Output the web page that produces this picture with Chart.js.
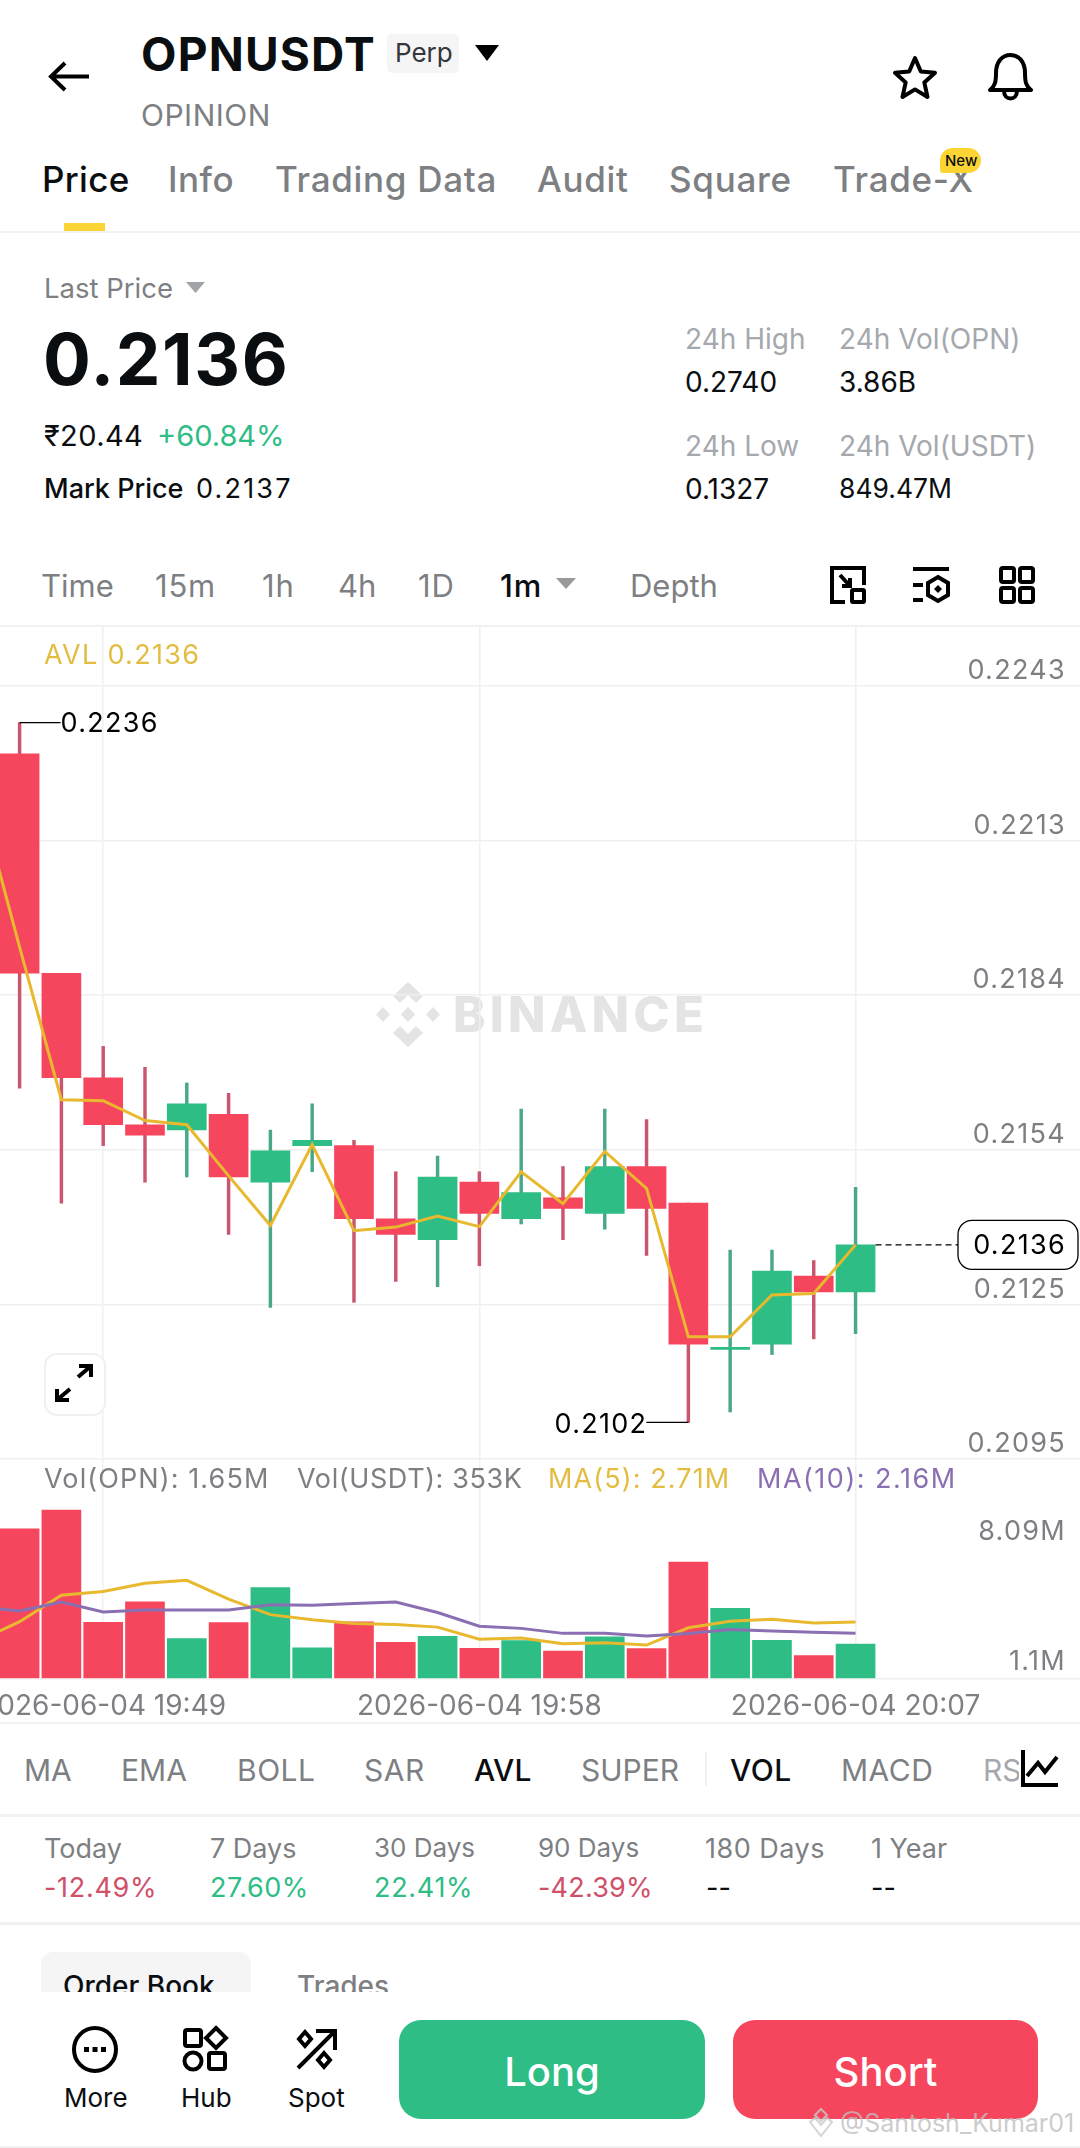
<!DOCTYPE html>
<html lang="en">
<head>
<meta charset="utf-8">
<title>OPNUSDT Perp</title>
<script src="https://cdn.jsdelivr.net/npm/chart.js@4.4.8/dist/chart.umd.min.js"></script>
<style>
    html, body { margin: 0; padding: 0; background: #fff; }
    body { position: relative; width: 1080px; height: 2148px; overflow: hidden; font-family: Inter, "Noto Sans", sans-serif; color: #0b0e11; }
    .t { position: absolute; white-space: nowrap; line-height: 1; }
    .g { color: #7d7f83; }
    .l { color: #a5a8ad; }
    .hr { position: absolute; left: 0; width: 1080px; background: #f1f1f1; }
    svg { position: absolute; overflow: visible; fill: none; stroke: #000; stroke-width: 4; }
    canvas { position: absolute; left: 0; }
</style>
</head>
<body>
    <!-- header -->
    <svg style="left:48px;top:61px" width="42" height="31" viewBox="0 0 42 31"><path d="M41 15.5H3M17 2L3 15.5L17 29"/></svg>
    <div class="t" style="left:141px;top:31px;font-size:46px;font-weight:700;letter-spacing:1.2px">OPNUSDT</div>
    <div style="position:absolute;left:387px;top:34px;width:72px;height:39px;background:#f5f5f5;border-radius:5px"></div>
    <div class="t" style="left:395px;top:40px;font-size:26px;color:#33363b">Perp</div>
    <svg style="left:475px;top:45px;fill:#000;stroke:none" width="24" height="16"><path d="M0 0H24L12 16Z"/></svg>
    <div class="t g" style="left:141px;top:100px;font-size:30px;letter-spacing:.5px">OPINION</div>
    <svg style="left:893px;top:56px;stroke-linejoin:round" width="44" height="43" viewBox="0 0 44 43"><path d="M22 2L27.8 15.5L42 16.8L31.3 26.4L34.5 41L22 33.4L9.5 41L12.7 26.4L2 16.8L16.2 15.5Z"/></svg>
    <svg style="left:988px;top:53px;stroke-linejoin:round" width="45" height="47" viewBox="0 0 45 47"><path d="M2 37C7 33 8 29 8 20C8 9 14 2 22.5 2S37 9 37 20C37 29 38 33 43 37Z M16 38C16 48 29 48 29 38"/></svg>

    <!-- tabs -->
    <div class="t" style="left:42px;top:162px;font-size:35px;font-weight:500;letter-spacing:.3px">Price</div>
    <div class="t g" style="left:168px;top:162px;font-size:35px;font-weight:500;letter-spacing:.5px">Info</div>
    <div class="t g" style="left:275px;top:162px;font-size:35px;font-weight:500;letter-spacing:.7px">Trading Data</div>
    <div class="t g" style="left:537px;top:162px;font-size:35px;font-weight:500;letter-spacing:.7px">Audit</div>
    <div class="t g" style="left:669px;top:162px;font-size:35px;font-weight:500;letter-spacing:.7px">Square</div>
    <div class="t g" style="left:833px;top:162px;font-size:35px;font-weight:500;letter-spacing:.7px">Trade-X</div>
    <div style="position:absolute;left:940px;top:148px;width:41px;height:25px;background:#fcd535;border-radius:13px 13px 13px 3px"></div>
    <div class="t" style="left:945px;top:153px;font-size:15px;font-weight:500">New</div>
    <div style="position:absolute;left:64px;top:223px;width:41px;height:8px;background:#fcd535"></div>
    <div class="hr" style="top:231px;height:2px"></div>

    <!-- price block -->
    <div class="t g" style="left:44px;top:275px;font-size:27.500px">Last Price</div>
    <svg style="left:186px;top:282px;fill:#a0a3a8;stroke:none" width="19" height="11"><path d="M0 0H19L9.5 11Z"/></svg>
    <div class="t" style="left:43px;top:324px;font-size:71px;font-weight:700;letter-spacing:1.6px">0.2136</div>
    <div class="t" style="left:44px;top:421px;font-size:29px;letter-spacing:.4px">₹20.44</div>
    <div class="t" style="left:157px;top:421px;font-size:29px;color:#2ebd85">+60.84%</div>
    <div class="t" style="left:44px;top:475px;font-size:27px;font-weight:500">Mark Price</div>
    <div class="t" style="left:196px;top:475px;font-size:27px;letter-spacing:2.2px">0.2137</div>
    <div class="t l" style="left:685px;top:325px;font-size:28px">24h High</div>
    <div class="t l" style="left:839px;top:325px;font-size:28px">24h Vol(OPN)</div>
    <div class="t" style="left:685px;top:368px;font-size:28px">0.2740</div>
    <div class="t" style="left:839px;top:368px;font-size:28px">3.86B</div>
    <div class="t l" style="left:685px;top:432px;font-size:28px">24h Low</div>
    <div class="t l" style="left:839px;top:432px;font-size:28px">24h Vol(USDT)</div>
    <div class="t" style="left:685px;top:475px;font-size:28px">0.1327</div>
    <div class="t" style="left:839px;top:475px;font-size:26.500px">849.47M</div>

    <!-- interval row -->
    <div class="t g" style="left:41px;top:570px;font-size:31px">Time</div>
    <div class="t g" style="left:155px;top:570px;font-size:31px;letter-spacing:.8px">15m</div>
    <div class="t g" style="left:262px;top:570px;font-size:31px;letter-spacing:1px">1h</div>
    <div class="t g" style="left:338px;top:570px;font-size:31px">4h</div>
    <div class="t g" style="left:418px;top:570px;font-size:31px;letter-spacing:1px">1D</div>
    <div class="t" style="left:500px;top:570px;font-size:31px;font-weight:500;letter-spacing:.8px">1m</div>
    <svg style="left:556px;top:578px;fill:#999;stroke:none" width="20" height="11"><path d="M0 0H20L10 11Z"/></svg>
    <div class="t g" style="left:630px;top:570px;font-size:31px">Depth</div>
    <svg style="left:830px;top:566px" width="36" height="38" viewBox="0 0 36 38"><path d="M15 36H2V2H34V19M10 9L20 20M20 12V20H12"/><rect x="22" y="24" width="12" height="12" rx="1"/></svg>
    <svg style="left:912px;top:566px" width="38" height="38" viewBox="0 0 38 38"><path d="M1 3H37M1 19H11M1 34H11M26 11L36 17V29L26 35L16 29V17Z"/><path d="M26 19L30 23L26 27L22 23Z" fill="#000" stroke="none"/></svg>
    <svg style="left:999px;top:566px" width="36" height="38" viewBox="0 0 36 38"><rect x="2" y="2" width="13" height="14" rx="2"/><rect x="21" y="2" width="13" height="14" rx="2"/><rect x="2" y="22" width="13" height="14" rx="2"/><rect x="21" y="22" width="13" height="14" rx="2"/></svg>
    <div class="hr" style="top:625px;height:2px"></div>

    <!-- chart panes -->
    <svg style="left:376px;top:982px;fill:#e4e4e4;stroke:none" width="64" height="65" viewBox="0 0 64 65"><path d="M32 0L47 14L40 21L32 13L24 21L17 14ZM7 25L14 32.5L7 40L0 32.5ZM57 25L64 32.5L57 40L50 32.5ZM32 25L39 32.5L32 40L25 32.5ZM17 51L24 44L32 52L40 44L47 51L32 65Z"/></svg>
    <div class="t" style="left:453px;top:990px;font-size:49px;font-weight:800;color:#e4e4e4;letter-spacing:4.2px">BINANCE</div>
    <canvas id="priceChart" width="1080" height="833" style="top:627px"></canvas>
    <canvas id="volChart" width="1080" height="264" style="top:1458px"></canvas>

    <div class="t" style="left:44px;top:641px;font-size:27px;letter-spacing:1.3px;color:#e3bd42">AVL 0.2136</div>
    <div style="position:absolute;left:44px;top:1353px;width:58px;height:59px;border:2px solid #f0f0f0;border-radius:13px;background:#fff"></div>
    <svg style="left:55px;top:1364px" width="38" height="38" viewBox="0 0 38 38"><path d="M2 36L15 25M2 25V36H14M36 2L23 13M24 2H36V13"/></svg>

    <div class="t g" style="left:44px;top:1465px;font-size:27px;letter-spacing:1.1px">Vol(OPN): 1.65M</div>
    <div class="t g" style="left:297px;top:1465px;font-size:27px;letter-spacing:.6px">Vol(USDT): 353K</div>
    <div class="t" style="left:548px;top:1465px;font-size:27px;letter-spacing:1.1px;color:#e3bd42">MA(5): 2.71M</div>
    <div class="t" style="left:757px;top:1465px;font-size:27px;letter-spacing:1.5px;color:#8b6fb3">MA(10): 2.16M</div>
    <div class="hr" style="top:1722px;height:2px"></div>

    <!-- indicators row -->
    <div class="t g" style="left:24px;top:1755px;font-size:30px">MA</div>
    <div class="t g" style="left:121px;top:1755px;font-size:30px">EMA</div>
    <div class="t g" style="left:237px;top:1755px;font-size:30px;letter-spacing:.5px">BOLL</div>
    <div class="t g" style="left:364px;top:1755px;font-size:30px;letter-spacing:.5px">SAR</div>
    <div class="t" style="left:474px;top:1755px;font-size:30px;font-weight:500">AVL</div>
    <div class="t g" style="left:581px;top:1755px;font-size:30px">SUPER</div>
    <div style="position:absolute;left:705px;top:1752px;width:2px;height:34px;background:#f0f0f0"></div>
    <div class="t" style="left:730px;top:1755px;font-size:30px;font-weight:500;letter-spacing:.5px">VOL</div>
    <div class="t g" style="left:841px;top:1755px;font-size:30px;letter-spacing:.5px">MACD</div>
    <div class="t l" style="left:983px;top:1755px;font-size:30px;width:36px;overflow:hidden">RSI</div>
    <svg style="left:1021px;top:1750px" width="37" height="37" viewBox="0 0 37 37"><path d="M2 0V35H37M6 26L17 13L24 22L36 7"/></svg>
    <div class="hr" style="top:1814px;height:3px"></div>

    <!-- period stats -->
    <div class="t g" style="left:44px;top:1835px;font-size:27px">Today</div>
    <div class="t g" style="left:210px;top:1835px;font-size:27px">7 Days</div>
    <div class="t g" style="left:374px;top:1835px;font-size:26px">30 Days</div>
    <div class="t g" style="left:538px;top:1835px;font-size:26px">90 Days</div>
    <div class="t g" style="left:705px;top:1835px;font-size:27px;letter-spacing:.5px">180 Days</div>
    <div class="t g" style="left:871px;top:1835px;font-size:27px">1 Year</div>
    <div class="t" style="left:44px;top:1874px;font-size:27px;letter-spacing:.7px;color:#cf5068">-12.49%</div>
    <div class="t" style="left:210px;top:1874px;font-size:27px;letter-spacing:.5px;color:#2ebd85">27.60%</div>
    <div class="t" style="left:374px;top:1874px;font-size:27px;letter-spacing:.7px;color:#2ebd85">22.41%</div>
    <div class="t" style="left:538px;top:1874px;font-size:27px;letter-spacing:.2px;color:#cf5068">-42.39%</div>
    <div class="t" style="left:706px;top:1874px;font-size:27px">--</div>
    <div class="t" style="left:871px;top:1874px;font-size:27px">--</div>
    <div class="hr" style="top:1922px;height:3px"></div>

    <!-- order book tabs, cut by the bottom bar -->
    <div style="position:absolute;left:41px;top:1952px;width:210px;height:60px;background:#f5f5f5;border-radius:12px 12px 0 0"></div>
    <div class="t" style="left:63px;top:1972px;font-size:28px;font-weight:500">Order Book</div>
    <div class="t g" style="left:297px;top:1972px;font-size:28px;font-weight:500">Trades</div>

    <!-- bottom bar -->
    <div style="position:absolute;left:0;top:1992px;width:1080px;height:156px;background:#fff"></div>
    <svg style="left:72px;top:2026px" width="46" height="47" viewBox="0 0 46 47"><ellipse cx="23" cy="23.5" rx="21" ry="21.5"/><path d="M12 21h5v5h-5zM20.500 21h5v5h-5zM29 21h5v5h-5z" fill="#000" stroke="none"/></svg>
    <svg style="left:183px;top:2027px" width="44" height="45" viewBox="0 0 44 45"><rect x="2" y="3" width="16" height="16" rx="2"/><path d="M33 1L43 11L33 21L23 11Z"/><circle cx="10" cy="34" r="8.500"/><rect x="26" y="26" width="16" height="16" rx="2"/></svg>
    <svg style="left:296px;top:2029px" width="41" height="41" viewBox="0 0 41 41"><path d="M2 39L39 2M20 2H39V21"/><path d="M9 3L15 10L9 17L3 10ZM28 24L34 31L28 38L22 31Z"/></svg>
    <div class="t" style="left:64px;top:2085px;font-size:26px">More</div>
    <div class="t" style="left:181px;top:2085px;font-size:26px">Hub</div>
    <div class="t" style="left:288px;top:2085px;font-size:26px">Spot</div>
    <div style="position:absolute;left:399px;top:2020px;width:306px;height:99px;background:#2ebd85;border-radius:22px"></div>
    <div style="position:absolute;left:733px;top:2020px;width:305px;height:99px;background:#f6465d;border-radius:22px"></div>
    <div class="t" style="left:399px;width:306px;text-align:center;top:2052px;font-size:40px;font-weight:500;color:#fff">Long</div>
    <div class="t" style="left:733px;width:305px;text-align:center;top:2052px;font-size:40px;font-weight:500;color:#fff">Short</div>
    <svg style="left:809px;top:2108px;stroke:#c9c9c9;stroke-width:2;opacity:.8" width="24" height="29" viewBox="0 0 24 29"><path d="M12 1L18 7L12 13L6 7ZM1 14L12 28L23 14L18 10L12 17L6 10Z"/></svg>
    <div class="t" style="left:840px;top:2111px;font-size:25px;color:rgba(190,190,190,.8)">@Santosh_Kumar01</div>
    <div class="hr" style="top:2146px;height:2px"></div>

    <script>
        // candles, one per minute
        const times = ['2026-06-04 19:47', '2026-06-04 19:48', '2026-06-04 19:49', '2026-06-04 19:50', '2026-06-04 19:51', '2026-06-04 19:52', '2026-06-04 19:53', '2026-06-04 19:54', '2026-06-04 19:55', '2026-06-04 19:56', '2026-06-04 19:57', '2026-06-04 19:58', '2026-06-04 19:59', '2026-06-04 20:00', '2026-06-04 20:01', '2026-06-04 20:02', '2026-06-04 20:03', '2026-06-04 20:04', '2026-06-04 20:05', '2026-06-04 20:06', '2026-06-04 20:07'];
        const opens = [0.2230, 0.2188, 0.2168, 0.2159, 0.2158, 0.2161, 0.2148, 0.2155, 0.2155, 0.2141, 0.2137, 0.2148, 0.2141, 0.2145, 0.2142, 0.2151, 0.2144, 0.2116, 0.2117, 0.2130, 0.2127];
        const closes = [0.2188, 0.2168, 0.2159, 0.2157, 0.2163, 0.2149, 0.2154, 0.2156, 0.2141, 0.2138, 0.2149, 0.2142, 0.2146, 0.2143, 0.2151, 0.2143, 0.2117, 0.2116, 0.2131, 0.2127, 0.2136];
        const highs = [0.2236, 0.2188, 0.2174, 0.2170, 0.2167, 0.2165, 0.2158, 0.2163, 0.2156, 0.2150, 0.2153, 0.2150, 0.2162, 0.2151, 0.2162, 0.2160, 0.2144, 0.2135, 0.2135, 0.2133, 0.2147];
        const lows = [0.2166, 0.2144, 0.2155, 0.2148, 0.2149, 0.2138, 0.2124, 0.2150, 0.2125, 0.2129, 0.2128, 0.2132, 0.2140, 0.2137, 0.2139, 0.2134, 0.2102, 0.2104, 0.2115, 0.2118, 0.2119];
        const avl = [0.2193, 0.21638, 0.21636, 0.21598, 0.2159, 0.21492, 0.21397, 0.21552, 0.21387, 0.21394, 0.21415, 0.21395, 0.2150, 0.21439, 0.21539, 0.21468, 0.21184, 0.21184, 0.21264, 0.21267, 0.2136];
        const avlBefore = 0.2223; // the minute left of the screen, only the line shows it

        // volume in millions
        const volumes = [7.18, 8.09, 2.69, 3.68, 1.91, 2.68, 4.36, 1.47, 2.72, 1.73, 2.02, 1.44, 1.81, 1.31, 1.99, 1.43, 5.59, 3.36, 1.83, 1.09, 1.65];
        const ma5 = [2.72, 3.99, 4.17, 4.57, 4.71, 3.81, 3.06, 2.82, 2.63, 2.59, 2.46, 1.88, 1.94, 1.66, 1.71, 1.60, 2.43, 2.74, 2.84, 2.66, 2.71];
        const ma5Before = 1.78;
        const ma10 = [3.24, 3.67, 3.19, 3.28, 3.28, 3.28, 3.54, 3.51, 3.60, 3.67, 3.16, 2.50, 2.40, 2.16, 2.16, 2.03, 2.15, 2.35, 2.27, 2.21, 2.16];
        const ma10Before = 3.44;

        // axes
        const timeTicks = [2, 11, 20];
        const priceTicks = [0.2243, 0.22134, 0.21838, 0.21542, 0.21246, 0.2095];
        const volTickLabels = ['8.09M', '1.1M'];
        const volTickValues = [7.05, 0.8]; // where the two labels sit in the pane

        const GREEN = '#2ebd85', RED = '#f6465d', YELLOW = '#e8b92e', PURPLE = '#8b6fb3';
        const GRID = '#f0f0f0', AXIS_TEXT = '#7d7f83';
        const FONT = { family: 'Inter', size: 27 };
        const xMin = -0.469, xMax = 25.37;

        const isUp = i => closes[i] >= opens[i];
        const bodyColors = times.map((_, i) => isUp(i) ? GREEN : RED);
        const wickColors = times.map((_, i) => isUp(i) ? '#4aa888' : '#c9566c');
        const withBefore = (before, values) => [{ x: -1, y: before }, ...values.map((y, x) => ({ x, y }))];

        // chart area has to fill the canvas, no room kept for labels
        const noPadding = scale => {
            scale.paddingLeft = scale.paddingRight = scale.paddingTop = scale.paddingBottom = 0;
        };

        function xScale(extra) {
            return Object.assign({
                type: 'linear',
                min: xMin,
                max: xMax,
                offset: false,
                grid: { color: GRID, lineWidth: 1.5, offset: false, drawTicks: false },
                border: { display: false },
                afterBuildTicks: scale => { scale.ticks = timeTicks.map(value => ({ value })); },
            }, extra);
        }

        // price and volume numbers are wider than Inter, only those get spaced
        const spacedTicks = {
            id: 'spacedTicks',
            beforeDraw(chart) { chart.ctx.letterSpacing = '1.3px'; },
            afterDatasetsDraw(chart) { chart.ctx.letterSpacing = '0px'; }
        };

        // high, low and last price marks
        const priceMarks = {
            id: 'priceMarks',
            afterDatasetsDraw(chart) {
                const { ctx, scales: { x, y } } = chart;
                const hiIdx = highs.indexOf(Math.max(...highs));
                const loIdx = lows.indexOf(Math.min(...lows));
                const last = times.length - 1;
                ctx.save();
                ctx.font = '27px Inter';
                ctx.letterSpacing = '1.3px';
                ctx.textBaseline = 'middle';
                ctx.strokeStyle = '#000';
                ctx.fillStyle = '#000';
                ctx.lineWidth = 1.3;

                let px = x.getPixelForValue(hiIdx), py = y.getPixelForValue(highs[hiIdx]);
                ctx.beginPath(); ctx.moveTo(px, py); ctx.lineTo(px + 41, py); ctx.stroke();
                ctx.textAlign = 'left';
                ctx.fillText(highs[hiIdx].toFixed(4), px + 41, py + 1);

                px = x.getPixelForValue(loIdx); py = y.getPixelForValue(lows[loIdx]);
                ctx.beginPath(); ctx.moveTo(px, py); ctx.lineTo(px - 42, py); ctx.stroke();
                ctx.textAlign = 'right';
                ctx.fillText(lows[loIdx].toFixed(4), px - 41, py + 2);

                px = x.getPixelForValue(last) + 20; py = y.getPixelForValue(closes[last]);
                ctx.setLineDash([6, 4]);
                ctx.beginPath(); ctx.moveTo(px, py); ctx.lineTo(958, py); ctx.stroke();
                ctx.setLineDash([]);
                ctx.fillStyle = '#fff';
                ctx.beginPath(); ctx.roundRect(958, py - 24.5, 120, 49, 14); ctx.fill(); ctx.stroke();
                ctx.fillStyle = '#000';
                ctx.textAlign = 'right';
                ctx.fillText(closes[last].toFixed(4), 1066, py + 1);
                ctx.restore();
            }
        };

        new Chart(document.getElementById('priceChart'), {
            type: 'bar',
            plugins: [spacedTicks, priceMarks],
            data: {
                datasets: [
                    {
                        type: 'line',
                        data: withBefore(avlBefore, avl),
                        borderColor: YELLOW,
                        borderWidth: 3,
                        pointRadius: 0,
                        tension: 0,
                        order: 0
                    },
                    {
                        data: times.map((_, i) => ({ x: i, y: [opens[i], closes[i]] })),
                        backgroundColor: bodyColors,
                        barThickness: 39,
                        minBarLength: 2,
                        grouped: false,
                        order: 1
                    },
                    {
                        data: times.map((_, i) => ({ x: i, y: [lows[i], highs[i]] })),
                        backgroundColor: wickColors,
                        barThickness: 2.8,
                        grouped: false,
                        order: 2
                    }
                ]
            },
            options: {
                responsive: false,
                animation: false,
                events: [],
                plugins: { legend: { display: false }, tooltip: { enabled: false } },
                // one spare pixel below so the lowest grid line is not cut
                layout: { padding: { bottom: 1 } },
                scales: {
                    x: xScale({
                        ticks: { display: false },
                        afterFit: scale => { noPadding(scale); scale.height = 0; }
                    }),
                    y: {
                        type: 'linear',
                        position: 'right',
                        min: 0.2095,
                        max: 0.22543,
                        grid: { color: GRID, lineWidth: 1.5, drawTicks: false },
                        border: { display: false },
                        afterBuildTicks: scale => { scale.ticks = priceTicks.map(value => ({ value })); },
                        afterFit: scale => { noPadding(scale); scale.width = 0; },
                        ticks: {
                            mirror: true,
                            padding: -14,
                            labelOffset: -15,
                            color: AXIS_TEXT,
                            font: FONT,
                            callback: v => v.toFixed(4)
                        }
                    }
                }
            }
        });

        new Chart(document.getElementById('volChart'), {
            type: 'bar',
            plugins: [spacedTicks],
            data: {
                datasets: [
                    {
                        type: 'line',
                        data: withBefore(ma10Before, ma10),
                        borderColor: PURPLE,
                        borderWidth: 3,
                        pointRadius: 0,
                        tension: 0,
                        order: 0
                    },
                    {
                        type: 'line',
                        data: withBefore(ma5Before, ma5),
                        borderColor: YELLOW,
                        borderWidth: 3,
                        pointRadius: 0,
                        tension: 0,
                        order: 1
                    },
                    {
                        data: volumes.map((y, x) => ({ x, y })),
                        backgroundColor: bodyColors,
                        barThickness: 39,
                        order: 2
                    }
                ]
            },
            options: {
                responsive: false,
                animation: false,
                events: [],
                plugins: { legend: { display: false }, tooltip: { enabled: false } },
                layout: { padding: 0 },
                scales: {
                    x: xScale({
                        border: { display: true, color: GRID, width: 1.5 },
                        ticks: {
                            padding: 11,
                            z: 1,
                            autoSkip: false,
                            maxRotation: 0,
                            color: AXIS_TEXT,
                            font: { family: 'Inter', size: 28 },
                            callback: v => times[v]
                        },
                        afterFit: scale => { noPadding(scale); scale.height = 43.7; }
                    }),
                    y: {
                        type: 'linear',
                        position: 'right',
                        min: 0,
                        max: 10.59,
                        grid: { display: false, drawTicks: false },
                        border: { display: false },
                        afterBuildTicks: scale => { scale.ticks = volTickValues.map(value => ({ value })); },
                        afterFit: scale => { noPadding(scale); scale.width = 0; },
                        ticks: {
                            mirror: true,
                            padding: -14,
                            color: AXIS_TEXT,
                            font: FONT,
                            callback: v => volTickLabels[volTickValues.indexOf(v)]
                        }
                    }
                }
            }
        });
    </script>
</body>
</html>
